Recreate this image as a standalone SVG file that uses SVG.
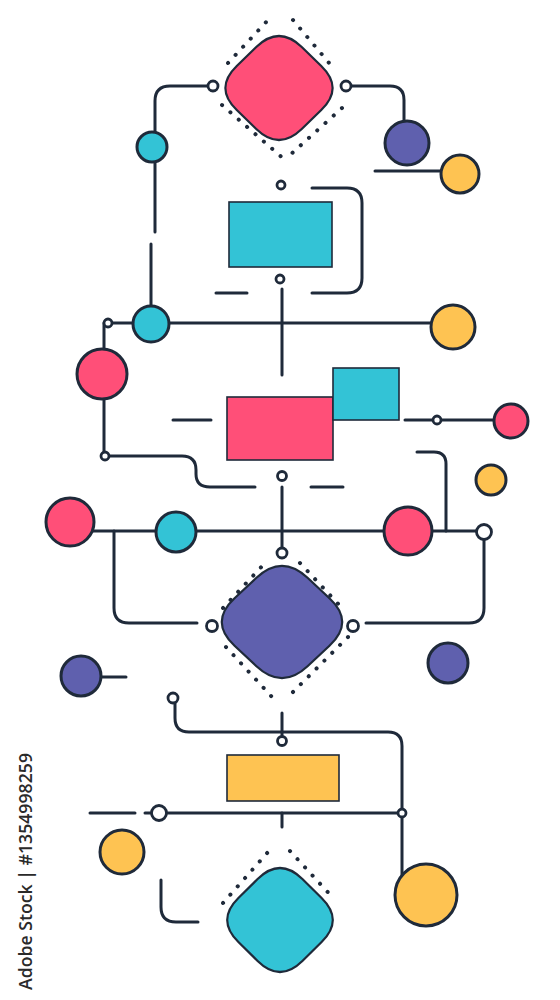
<svg xmlns="http://www.w3.org/2000/svg" width="560" height="1000" viewBox="0 0 560 1000">
<style>
.ln{fill:none;stroke:#1F2A3A;stroke-width:3;stroke-linecap:round;stroke-linejoin:round}
.dots{fill:none;stroke:#1F2A3A;stroke-width:4;stroke-linecap:round;stroke-dasharray:0.1 11}
.c{stroke:#1F2A3A;stroke-width:3}
.r{stroke:#1F2A3A;stroke-width:1.6}
.d{stroke:#1F2A3A;stroke-width:2.2}
.o{fill:#fff;stroke:#1F2A3A;stroke-width:2.8}
.pk{fill:#FF4F78}.cy{fill:#33C3D6}.pu{fill:#5F60AE}.ye{fill:#FEC352}
.wm{font-family:"Open Sans","DejaVu Sans",sans-serif;font-size:18px;font-weight:600;fill:#2a2a2a}
</style>
<rect width="560" height="1000" fill="#fff"/>
<g id="connectors">
<path class="ln" d="M208,86 H170 Q155,86 155,101 V140"/>
<path class="ln" d="M155,155 V232"/>
<path class="ln" d="M151,244 V315"/>
<path class="ln" d="M351,86 H390 Q404,86 404,100 V125"/>
<path class="ln" d="M375,171 H445"/>
<path class="ln" d="M312,188 H347 Q362,188 362,203 V278 Q362,293 347,293 H312"/>
<path class="ln" d="M216,293 H247"/>
<path class="ln" d="M282,289 V375"/>
<path class="ln" d="M108,323 H453"/>
<path class="ln" d="M104,323 V452"/>
<path class="ln" d="M105,456 H182 Q196,456 196,470 V474 Q196,487 210,487 H255"/>
<path class="ln" d="M173,420 H211"/>
<path class="ln" d="M405,420 H505"/>
<path class="ln" d="M417,452 H434 Q446,452 446,464 V531"/>
<path class="ln" d="M282,487 V553"/>
<path class="ln" d="M311,487 H343"/>
<path class="ln" d="M70,531 H484"/>
<path class="ln" d="M484,532 V608 Q484,623 469,623 H366"/>
<path class="ln" d="M114,531 V608 Q114,623 129,623 H197"/>
<path class="ln" d="M81,677 H126"/>
<path class="ln" d="M175,698 V718 Q175,732 189,732 H388 Q402,732 402,746 V880"/>
<path class="ln" d="M282,713 V741"/>
<path class="ln" d="M90,813 H135"/>
<path class="ln" d="M145,813 H402"/>
<path class="ln" d="M282,813 V827"/>
<path class="ln" d="M161,880 V907 Q161,922 176,922 H198"/>
</g>
<g id="diamond-top">
<path class="dots" d="M228,63 L268,20 M293,20 L335,70 M222,105 L285,160 M342,108 L290,155"/>
<path class="pk d" d="M301.75,47.05 L321.25,65.95 Q344,88 321.25,110.05 L301.75,128.95 Q279,151 256.25,128.95 L236.75,110.05 Q214,88 236.75,65.95 L256.25,47.05 Q279,25 301.75,47.05 Z"/>
<circle class="o" cx="213" cy="86" r="5"/>
<circle class="o" cx="346" cy="86" r="5"/>
</g>
<g id="n-cyan1"><circle class="cy c" cx="152" cy="147" r="15"/></g>
<g id="n-purple1"><circle class="pu c" cx="407" cy="143" r="22"/></g>
<g id="n-yellow1"><circle class="ye c" cx="460" cy="174" r="19"/></g>
<g id="rect-cyan">
<rect class="cy r" x="229" y="202" width="103" height="65"/>
<circle class="o" cx="281" cy="185" r="4"/>
<circle class="o" cx="280" cy="279" r="4"/>
</g>
<g id="n-row1">
<circle class="o" cx="108" cy="323" r="4"/>
<circle class="cy c" cx="151" cy="324" r="18"/>
<circle class="ye c" cx="453" cy="327" r="22"/>
</g>
<g id="n-pink1"><circle class="pk c" cx="102" cy="374" r="25"/><circle class="o" cx="105" cy="456" r="4"/></g>
<g id="rects-mid">
<rect class="pk r" x="227" y="397" width="106" height="63"/>
<rect class="cy r" x="333" y="368" width="66" height="52"/>
<circle class="o" cx="282" cy="476" r="4.5"/>
</g>
<g id="n-pink2"><circle class="o" cx="437" cy="420" r="4"/><circle class="pk c" cx="511" cy="421" r="17"/></g>
<g id="n-yellow2"><circle class="ye c" cx="491" cy="480" r="15"/></g>
<g id="n-row2">
<circle class="pk c" cx="70" cy="522" r="24"/>
<circle class="cy c" cx="176" cy="532" r="20"/>
<circle class="pk c" cx="408" cy="531" r="24"/>
<circle class="o" cx="484" cy="532" r="7.5"/>
</g>
<g id="diamond-mid">
<path class="dots" d="M223,608 L265,563 M300,563 L342,608 M226,647 L272,697 M348,637 L288,697"/>
<path class="pu d" d="M307.55,577.8 L329.45,598.2 Q355,622 329.45,645.8 L307.55,666.2 Q282,690 256.45,666.2 L234.55,645.8 Q209,622 234.55,598.2 L256.45,577.8 Q282,554 307.55,577.8 Z"/>
<circle class="o" cx="282" cy="553" r="5"/>
<circle class="o" cx="212" cy="626" r="5.5"/>
<circle class="o" cx="353" cy="626" r="5.5"/>
</g>
<g id="n-purple2"><circle class="pu c" cx="81" cy="676" r="20"/></g>
<g id="n-purple3"><circle class="pu c" cx="448" cy="663" r="20"/></g>
<g id="rect-yellow">
<circle class="o" cx="173" cy="698" r="5"/>
<circle class="o" cx="282" cy="741" r="4.5"/>
<rect class="ye r" x="227" y="755" width="112" height="46"/>
<circle class="o" cx="159" cy="813" r="7.5"/>
<circle class="o" cx="402" cy="813" r="4"/>
</g>
<g id="n-yellow3"><circle class="ye c" cx="122" cy="852" r="22"/></g>
<g id="diamond-bottom">
<path class="dots" d="M223,903 L268,852 M290,851 L335,900"/>
<path class="cy d" d="M302.4,879.05 L321.6,897.95 Q344,920 321.6,942.05 L302.4,960.95 Q280,983 257.6,960.95 L238.4,942.05 Q216,920 238.4,897.95 L257.6,879.05 Q280,857 302.4,879.05 Z"/>
</g>
<g id="n-yellow4"><circle class="ye c" cx="426" cy="895" r="31"/></g>
<text class="wm" transform="translate(32,990) rotate(-90)" textLength="237" lengthAdjust="spacingAndGlyphs">Adobe Stock | #1354998259</text>
</svg>
